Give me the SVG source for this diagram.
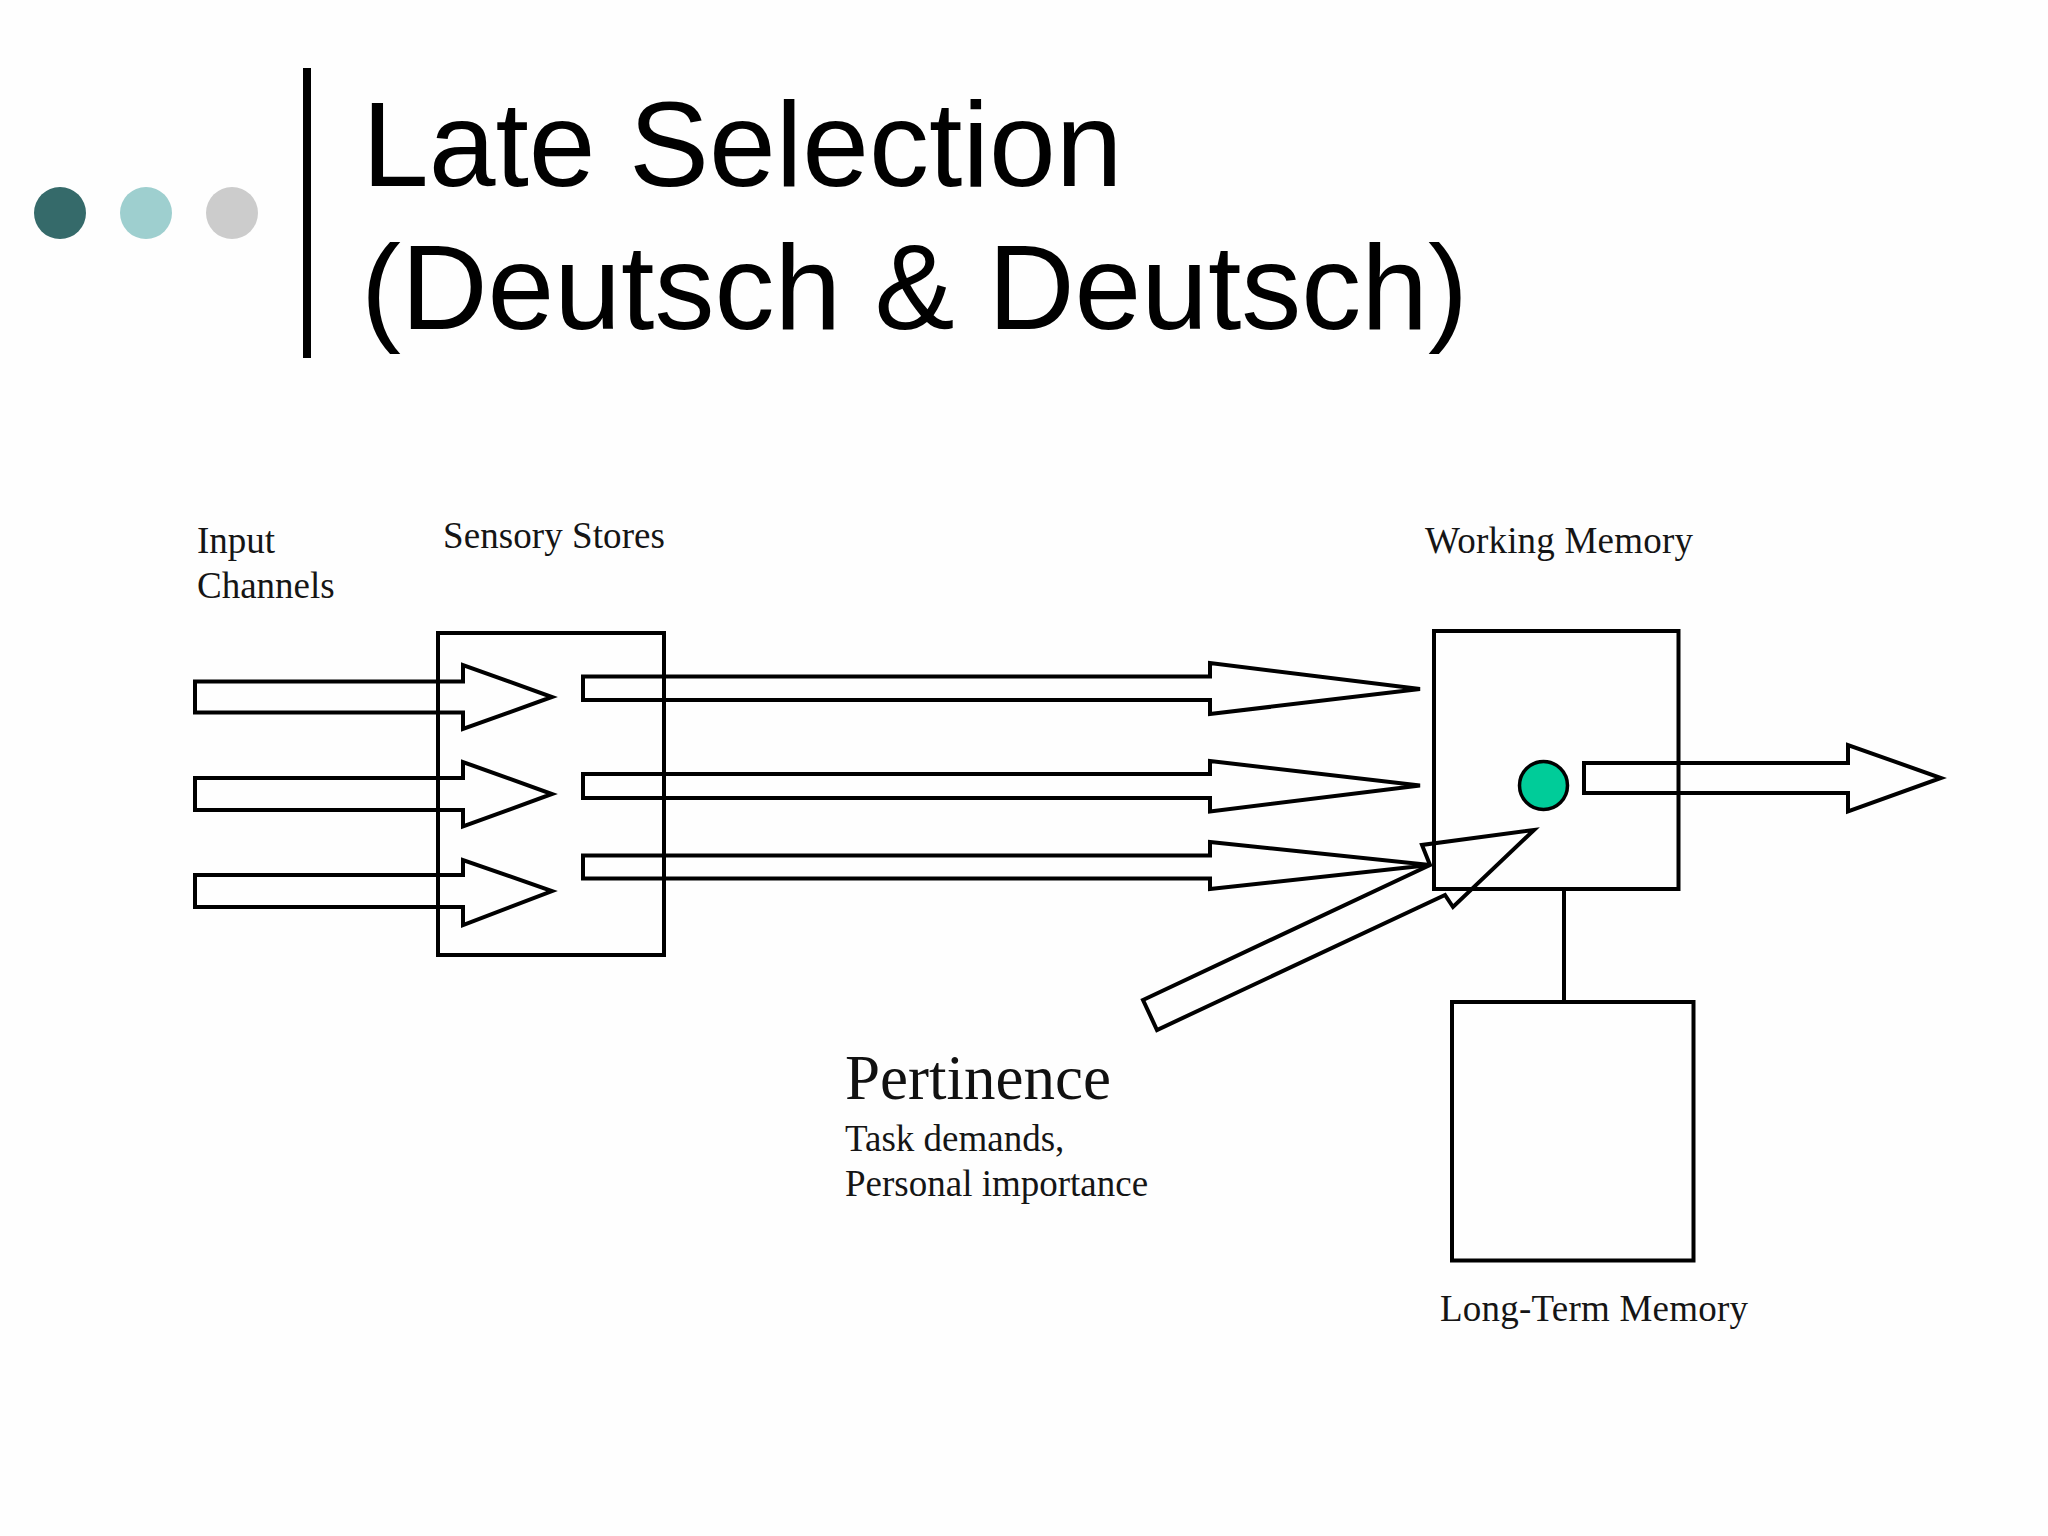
<svg xmlns="http://www.w3.org/2000/svg" width="2048" height="1536" viewBox="0 0 2048 1536">
<style>
.title{font-family:"Liberation Sans",Arial,sans-serif;font-size:120px;fill:#000}
.lbl{font-family:"Liberation Serif","Times New Roman",serif;font-size:37px;fill:#151515}
.big{font-family:"Liberation Serif","Times New Roman",serif;font-size:63px;fill:#111}
.box{fill:none;stroke:#000;stroke-width:4}
.arr{fill:none;stroke:#000;stroke-width:4;stroke-linejoin:miter}
</style>
<rect x="0" y="0" width="2048" height="1536" fill="#fefefe"/>
<g id="header">
<circle cx="60" cy="213" r="26" fill="#356a6a"/>
<circle cx="146" cy="213" r="26" fill="#9ecfcf"/>
<circle cx="232" cy="213" r="26" fill="#cccccc"/>
<rect x="303" y="68" width="8" height="290" fill="#000"/>
<text class="title" x="362" y="186">Late Selection</text>
<text class="title" x="361" y="329">(Deutsch &amp; Deutsch)</text>
</g>
<g id="labels">
<text class="lbl" x="197" y="553">Input</text>
<text class="lbl" x="197" y="598">Channels</text>
<text class="lbl" x="443" y="548" textLength="222">Sensory Stores</text>
<text class="lbl" x="1425" y="553" textLength="268">Working Memory</text>
</g>
<g id="sensory-stores">
<rect class="box" x="438" y="633" width="226" height="322"/>
</g>
<g id="working-memory">
<rect class="box" x="1434" y="631" width="244.5" height="258"/>
<circle cx="1543.5" cy="785.5" r="24" fill="#00cc99" stroke="#000" stroke-width="3.5"/>
</g>
<g id="long-term-memory">
<rect class="box" x="1452" y="1002" width="241.5" height="258.5"/>
<text class="lbl" x="1440" y="1321" font-size="35" textLength="308">Long-Term Memory</text>
</g>
<g id="pertinence">
<text class="big" x="845" y="1099">Pertinence</text>
<text class="lbl" x="845" y="1151">Task demands,</text>
<text class="lbl" x="845" y="1196">Personal importance</text>
</g>
<g id="connectors">
<polygon class="arr" points="195,681.5 463,681.5 463,665 552,697 463,729 463,712.5 195,712.5"/>
<polygon class="arr" points="195,778 463,778 463,762 552,794 463,826.5 463,810 195,810"/>
<polygon class="arr" points="195,875 463,875 463,860 552,891 463,925 463,907 195,907"/>
<polygon class="arr" points="583,676.5 1210,676.5 1210,663 1420,689 1210,714 1210,700 583,700"/>
<polygon class="arr" points="583,774 1210,774 1210,761 1420,785.5 1210,811.5 1210,798 583,798"/>
<polygon class="arr" points="583,855.5 1210,855.5 1210,842 1430,865 1210,889 1210,878.5 583,878.5"/>
<polygon class="arr" points="1584,763 1848,763 1848,745 1941,778 1848,811.5 1848,793 1584,793"/>
<polygon class="arr" points="1143,1000 1430,865 1422,845 1534,830 1453,907 1445,895 1157,1030"/>
<line x1="1564" y1="889" x2="1564" y2="1002" stroke="#000" stroke-width="4"/>
</g>
</svg>
